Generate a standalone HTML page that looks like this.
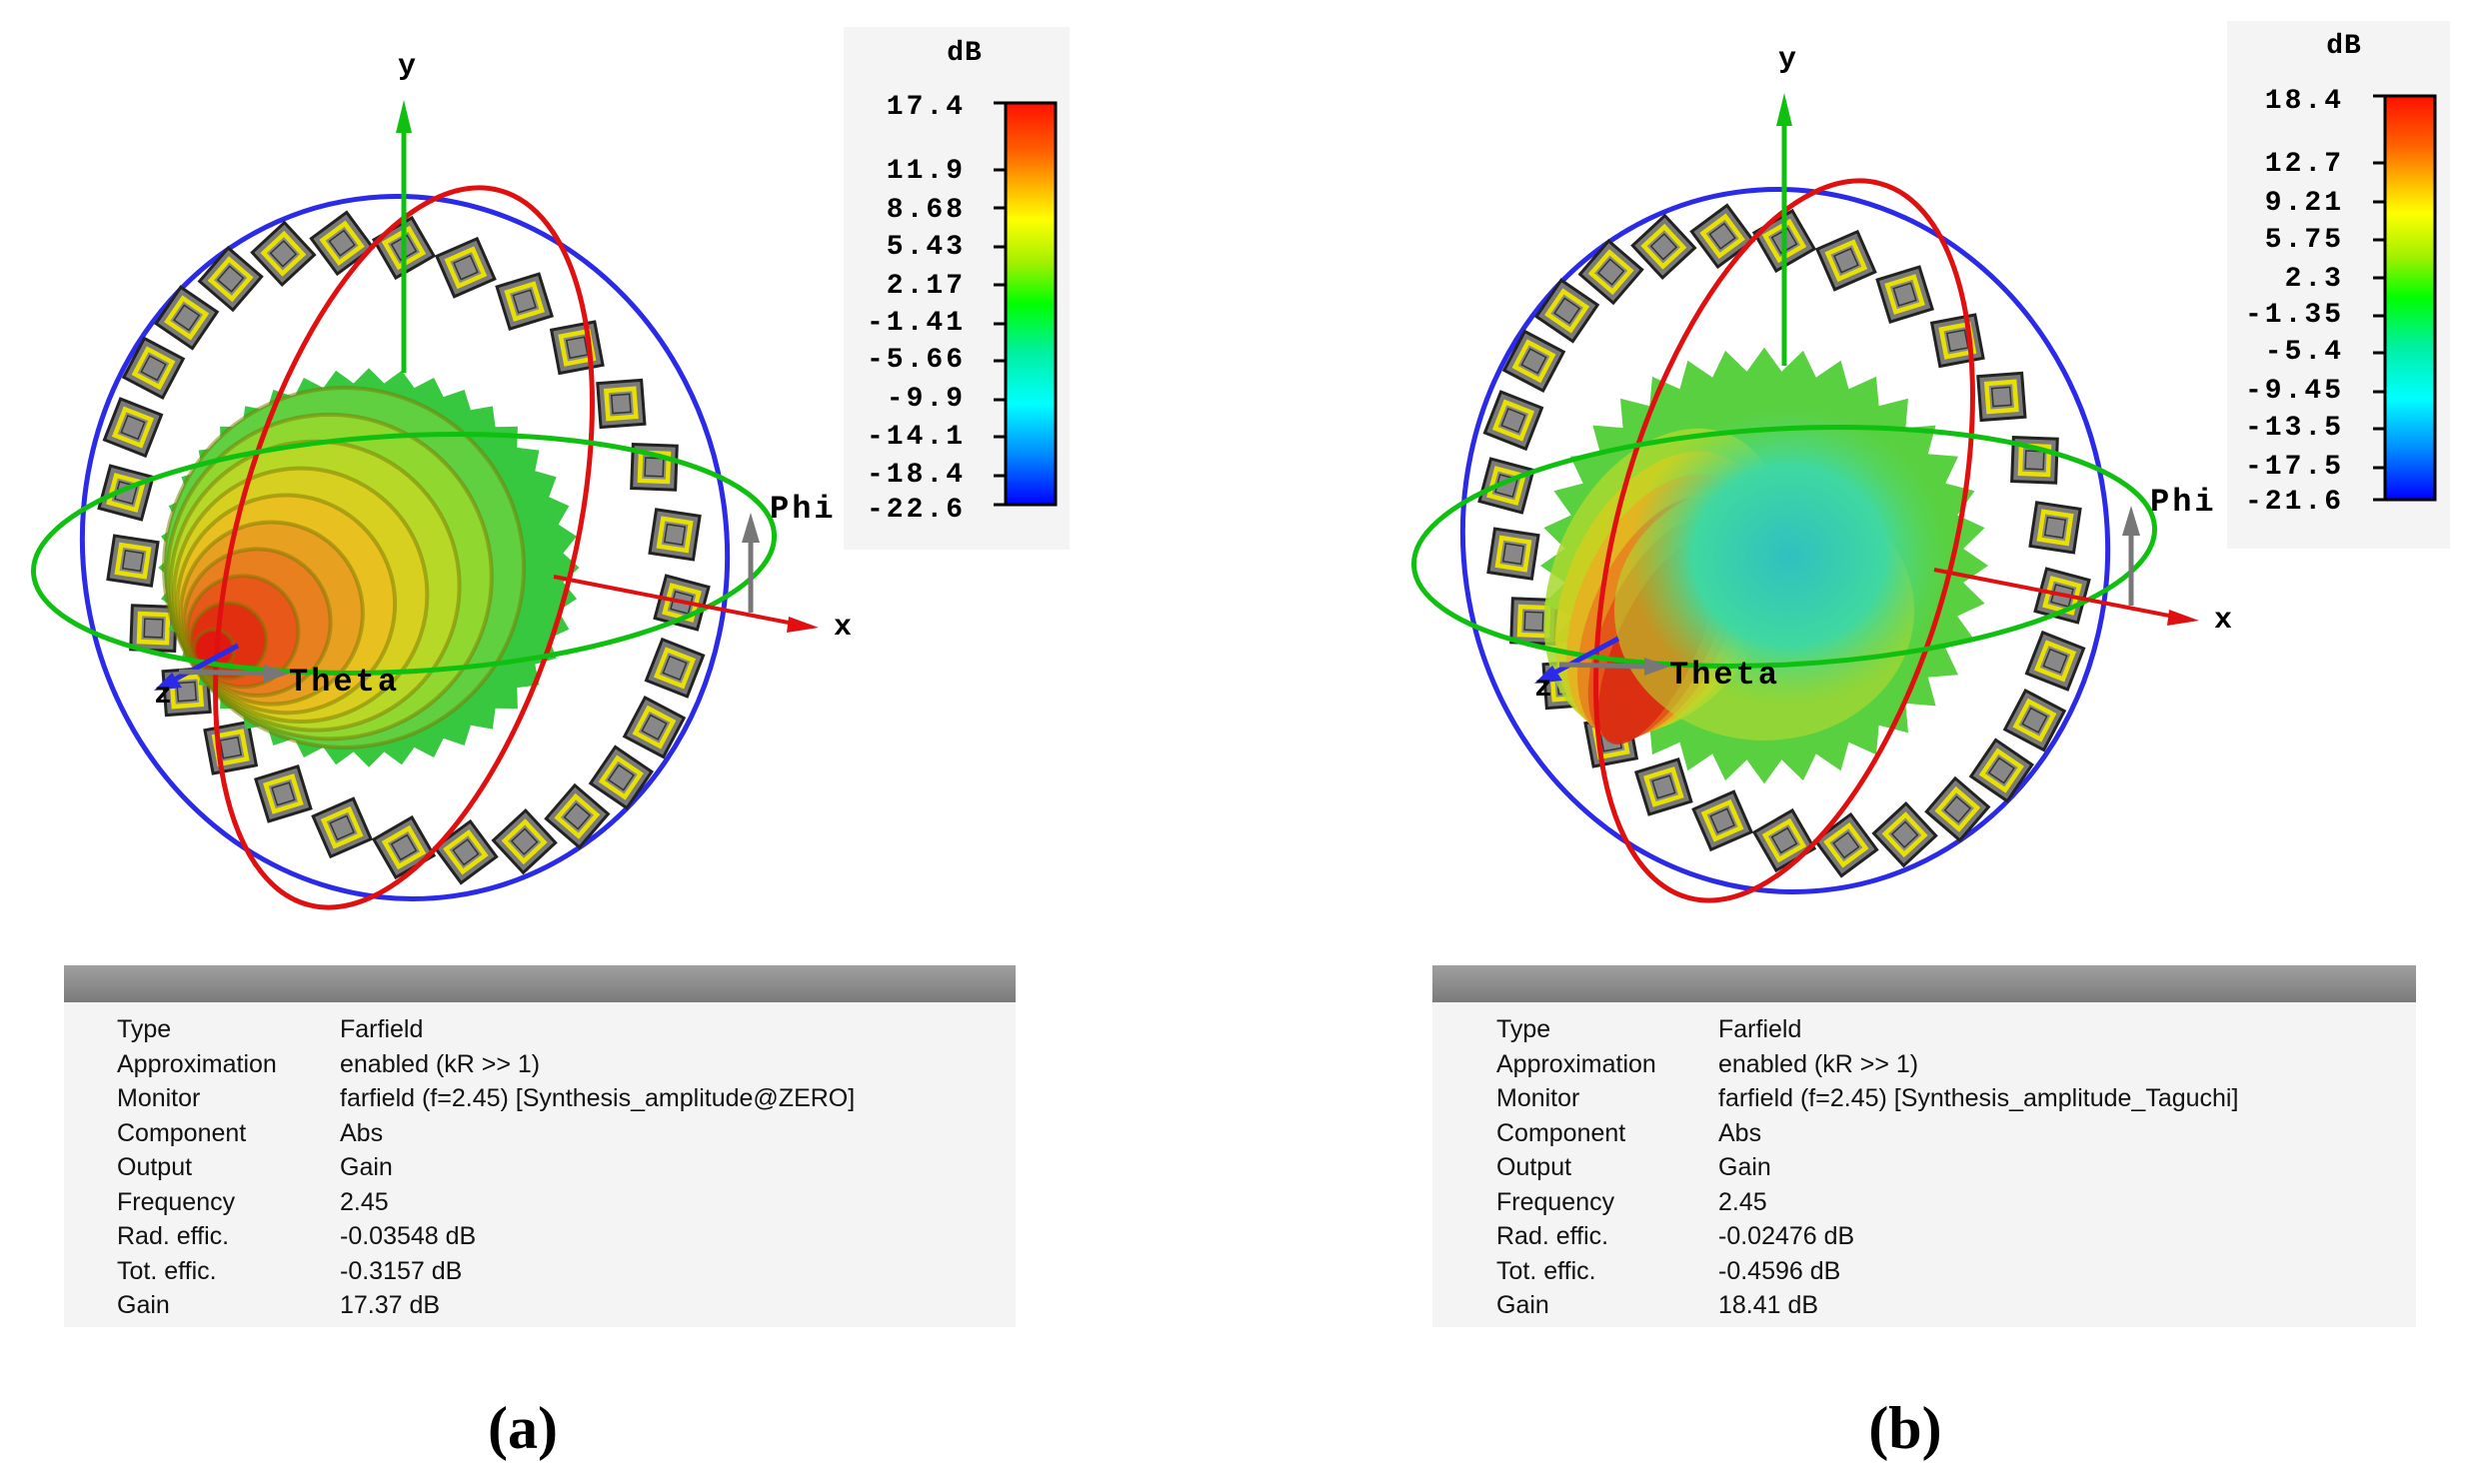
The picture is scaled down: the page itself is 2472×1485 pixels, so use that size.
<!DOCTYPE html>
<html><head><meta charset="utf-8">
<style>
html,body{margin:0;padding:0;background:#fff;}
body{width:2472px;height:1485px;position:relative;overflow:hidden;font-family:"Liberation Sans",sans-serif;}
.cbp{position:absolute;background:#f4f4f4;}
.lab{position:absolute;font-family:"Liberation Mono",monospace;font-weight:bold;font-size:28px;letter-spacing:3px;text-align:right;width:140px;line-height:28px;color:#000;}
.info{position:absolute;background:#f4f4f4;}
.hdr{position:absolute;left:0;right:0;top:0;height:37px;background:linear-gradient(#a0a0a0,#7a7a7a);}
.row{position:absolute;font-size:25px;line-height:28px;color:#111;white-space:nowrap;}
.cap{position:absolute;font-family:"Liberation Serif",serif;font-weight:bold;font-size:60px;transform:translateX(-50%);}
</style></head><body>
<svg id="sv" width="2472" height="1485" style="position:absolute;left:0;top:0">
<defs>
<linearGradient id="cb" x1="0" y1="0" x2="0" y2="1">
<stop offset="0" stop-color="#ff1000"/><stop offset="0.12" stop-color="#ff6000"/><stop offset="0.22" stop-color="#ffc000"/>
<stop offset="0.29" stop-color="#ffff00"/><stop offset="0.4" stop-color="#a0f000"/><stop offset="0.5" stop-color="#00ff00"/>
<stop offset="0.62" stop-color="#00f0a0"/><stop offset="0.75" stop-color="#00ffff"/><stop offset="0.87" stop-color="#0090ff"/>
<stop offset="1" stop-color="#0000ff"/></linearGradient>
<radialGradient id="cyan" cx="0.5" cy="0.5" r="0.5"><stop offset="0" stop-color="#30c0c0"/><stop offset="0.6" stop-color="#40d8a0"/><stop offset="1" stop-color="#60d860" stop-opacity="0"/></radialGradient>
</defs>
<g id="A"></g><g id="B"></g>
</svg>

<div class="cbp" style="left:844px;top:27px;width:226px;height:523px"></div>
<div class="cbp" style="left:2228px;top:21px;width:223px;height:528px"></div>
<svg width="2472" height="600" style="position:absolute;left:0;top:0">
<rect x="1006" y="103" width="50" height="402" fill="url(#cb)" stroke="#000" stroke-width="3"/>
<rect x="2386" y="96" width="50" height="404" fill="url(#cb)" stroke="#000" stroke-width="3"/>
<g stroke="#000" stroke-width="3" id="ticks"></g>
</svg>
<div id="labs"></div>

<div class="info" style="left:64px;top:966px;width:952px;height:362px"><div class="hdr"></div></div>
<div class="info" style="left:1433px;top:966px;width:984px;height:362px"><div class="hdr"></div></div>
<div id="rows"></div>
<div class="cap" style="left:523px;top:1395px">(a)</div>
<div class="cap" style="left:1906px;top:1395px">(b)</div>

<script>
var NS="http://www.w3.org/2000/svg";
function el(p,t,a){var e=document.createElementNS(NS,t);for(var k in a)e.setAttribute(k,a[k]);p.appendChild(e);return e;}
function txt(p,x,y,s,size,anchor){var e=el(p,"text",{x:x,y:y,"font-family":"Liberation Mono,monospace","font-weight":"bold","font-size":size||30,"text-anchor":anchor||"start",fill:"#000","letter-spacing":"3"});e.textContent=s;}
function panel(g,o,cy0,blob){
 var cx=404+o;
 el(g,"ellipse",{cx:cx+1,cy:cy0,rx:322,ry:352,fill:"none",stroke:"#2a2ae8","stroke-width":5,transform:"rotate(-8 "+(cx+1)+" "+cy0+")"});
 var N=28;
 for(var i=0;i<N;i++){var t=i/N*2*Math.PI;var x=cx+278*Math.cos(t),y=cy0+300*Math.sin(t)+55*Math.cos(t);
  var s=el(g,"g",{transform:"translate("+x+","+y+") rotate("+(i*360/N*0.5+15)+")"});
  el(s,"rect",{x:-22,y:-22,width:44,height:44,fill:"#7a7a7a",stroke:"#222","stroke-width":3});
  el(s,"rect",{x:-14,y:-14,width:28,height:28,fill:"#8a8a8a",stroke:"#e8e000","stroke-width":4.5});
  el(s,"rect",{x:-9,y:-9,width:18,height:18,fill:"#888",stroke:"#333","stroke-width":1.5});}
 blob(g,cx,cy0);
 el(g,"ellipse",{cx:cx,cy:cy0,rx:168,ry:370,fill:"none",stroke:"#e01010","stroke-width":5,transform:"rotate(15 "+cx+" "+cy0+")"});
 el(g,"ellipse",{cx:cx,cy:cy0+6,rx:371,ry:118,fill:"none",stroke:"#10c010","stroke-width":5,transform:"rotate(-3 "+cx+" "+(cy0+6)+")"});
 el(g,"line",{x1:cx,y1:cy0-175,x2:cx,y2:cy0-420,stroke:"#10c010","stroke-width":5});
 el(g,"polygon",{points:(cx-8)+","+(cy0-415)+" "+(cx+8)+","+(cy0-415)+" "+cx+","+(cy0-448),fill:"#10c010"});
 txt(g,cx-6,cy0-474,"y",30);
 el(g,"line",{x1:cx+150,y1:cy0+29,x2:cx+395,y2:cy0+77,stroke:"#e01010","stroke-width":4});
 el(g,"polygon",{points:(cx+385)+","+(cy0+69)+" "+(cx+383)+","+(cy0+85)+" "+(cx+415)+","+(cy0+80),fill:"#e01010"});
 txt(g,cx+430,cy0+87,"x",30);
 el(g,"line",{x1:cx+347,y1:cy0+65,x2:cx+347,y2:cy0-15,stroke:"#777","stroke-width":5});
 el(g,"polygon",{points:(cx+338)+","+(cy0-5)+" "+(cx+356)+","+(cy0-5)+" "+(cx+347)+","+(cy0-35),fill:"#777"});
 txt(g,cx+366,cy0-30,"Phi",32);
 el(g,"line",{x1:cx-166,y1:cy0+98,x2:cx-235,y2:cy0+135,stroke:"#2a2ae8","stroke-width":5});
 el(g,"polygon",{points:(cx-232)+","+(cy0+125)+" "+(cx-222)+","+(cy0+140)+" "+(cx-250)+","+(cy0+143),fill:"#2a2ae8"});
 txt(g,cx-250,cy0+155,"z",30);
 el(g,"line",{x1:cx-225,y1:cy0+124,x2:cx-135,y2:cy0+126,stroke:"#777","stroke-width":5});
 el(g,"polygon",{points:(cx-140)+","+(cy0+117)+" "+(cx-140)+","+(cy0+135)+" "+(cx-115)+","+(cy0+126),fill:"#777"});
 txt(g,cx-115,cy0+143,"Theta",32);
}
function spiky(g,cx,cy,rx,ry,n,amp,fill){var pts=[];for(var i=0;i<n*2;i++){var t=i/(n*2)*2*Math.PI;var r=(i%2?1:1+amp);pts.push((cx+rx*r*Math.cos(t)).toFixed(1)+","+(cy+ry*r*Math.sin(t)).toFixed(1));}
 el(g,"polygon",{points:pts.join(" "),fill:fill});}
function blobA(g,cx,cy){
 spiky(g,cx-35,cy+20,195,185,40,0.08,"#38c840");
 var cols=["#60d040","#90d830","#b8d828","#d8d020","#e8c020","#e8a020","#e88020","#e85818","#e03010","#e01810"];
 for(var i=0;i<10;i++){var k=i/9;
  el(g,"ellipse",{cx:cx-60-k*130,cy:cy+20+k*82,rx:180-k*160,ry:180-k*160,fill:cols[i],stroke:"rgba(120,120,0,0.5)","stroke-width":4});}
}
function blobB(g,cx,cy){
 spiky(g,cx-20,cy+25,200,195,36,0.12,"#58d040");
 var cols=["#a8d830","#d0d020","#e8b020","#e88020","#e05018","#d82810"];
 for(var i=0;i<6;i++){el(g,"ellipse",{cx:cx-120+i*4,cy:cy+40+i*12,rx:110-i*14,ry:160-i*10,fill:cols[i],opacity:0.85,transform:"rotate(25 "+(cx-120)+" "+(cy+40)+")"});}
 el(g,"ellipse",{cx:cx-20,cy:cy+70,rx:150,ry:130,fill:"#b8d830",opacity:0.6});
 el(g,"ellipse",{cx:cx+5,cy:cy+15,rx:160,ry:150,fill:"url(#cyan)"});
}
panel(document.getElementById("A"),0,548,blobA);
panel(document.getElementById("B"),1381,541,blobB);
var L=document.getElementById("labs");
function cl(x,vals,ys,dbx,dby){var h="";for(var i=0;i<vals.length;i++)h+='<div class="lab" style="left:'+(x-140)+'px;top:'+(ys[i]-14)+'px">'+vals[i]+'</div>';
 h+='<div class="lab" style="left:'+(dbx-70)+'px;top:'+(dby-14)+'px;width:140px;text-align:center;letter-spacing:1px">dB</div>';L.innerHTML+=h;}
var ya=[108,172,211,248,287,324,361,400,438,476,511],yb=[102,165,204,241,280,316,353,392,429,468,503];
cl(966,["17.4","11.9","8.68","5.43","2.17","-1.41","-5.66","-9.9","-14.1","-18.4","-22.6"],ya,965,54);
cl(2345,["18.4","12.7","9.21","5.75","2.3","-1.35","-5.4","-9.45","-13.5","-17.5","-21.6"],yb,2345,47);
var T=document.getElementById("ticks");
[103,170,208,247,285,324,361,400,437,476,505].forEach(function(y){el(T,"line",{x1:994,y1:y,x2:1006,y2:y});});
[96,163,202,240,278,316,353,392,429,468,500].forEach(function(y){el(T,"line",{x1:2374,y1:y,x2:2386,y2:y});});
var names=["Type","Approximation","Monitor","Component","Output","Frequency","Rad. effic.","Tot. effic.","Gain"];
var va=["Farfield","enabled (kR &gt;&gt; 1)","farfield (f=2.45) [Synthesis_amplitude@ZERO]","Abs","Gain","2.45","-0.03548 dB","-0.3157 dB","17.37 dB"];
var vb=["Farfield","enabled (kR &gt;&gt; 1)","farfield (f=2.45) [Synthesis_amplitude_Taguchi]","Abs","Gain","2.45","-0.02476 dB","-0.4596 dB","18.41 dB"];
var R=document.getElementById("rows"),h="";
for(var i=0;i<9;i++){var y=1016+i*34.5;
 h+='<div class="row" style="left:117px;top:'+y+'px">'+names[i]+'</div><div class="row" style="left:340px;top:'+y+'px">'+va[i]+'</div>';
 h+='<div class="row" style="left:1497px;top:'+y+'px">'+names[i]+'</div><div class="row" style="left:1719px;top:'+y+'px">'+vb[i]+'</div>';}
R.innerHTML=h;
</script>
</body></html>
